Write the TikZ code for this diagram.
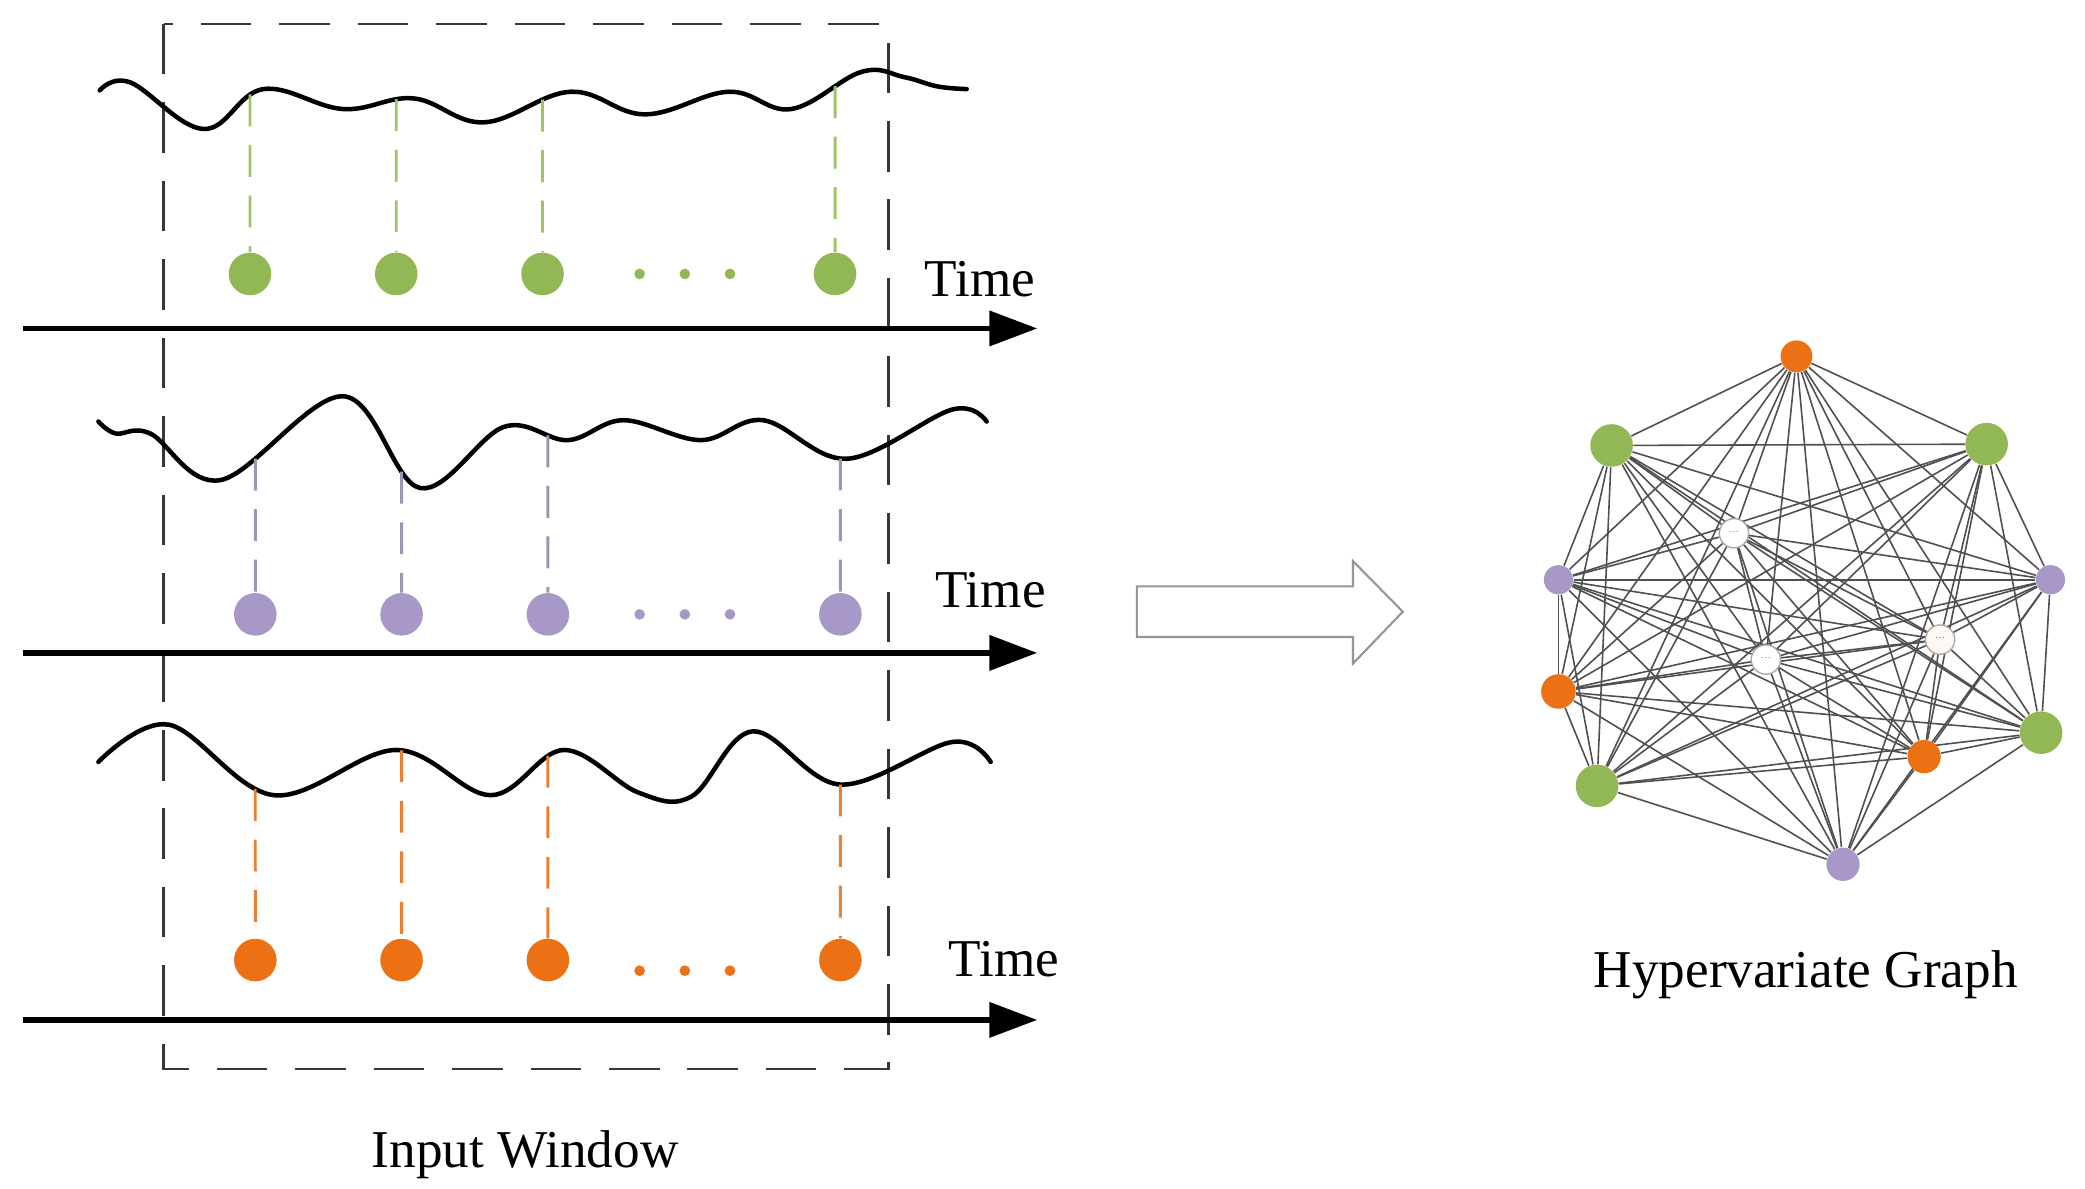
\documentclass[tikz,border=0pt]{standalone}
\usepackage{fontspec}
\setmainfont{Liberation Serif}
\usetikzlibrary{arrows.meta,intersections,backgrounds}
\definecolor{cgreen}{RGB}{145,184,84}
\definecolor{cpurple}{RGB}{168,152,200}
\definecolor{corange}{RGB}{236,112,20}
\definecolor{lgreen}{RGB}{158,198,100}
\definecolor{lpurple}{RGB}{158,148,180}
\definecolor{lorange}{RGB}{234,128,50}
\definecolor{edgegray}{RGB}{80,80,80}
\definecolor{boxgray}{RGB}{55,55,55}
\definecolor{arrgray}{RGB}{150,150,150}
\begin{document}
\begin{tikzpicture}[x=0.5pt,y=-0.5pt,
  wave/.style={line width=1.7pt, black, line cap=round},
  timeaxis/.style={line width=2pt, -{Triangle[length=18pt,width=13pt]}},
  sampdot/.style={circle, minimum size=16pt, inner sep=0pt, fill=#1},
  smalldot/.style={circle, minimum size=4pt, inner sep=0pt, fill=#1},
  sampline/.style={line width=1.1pt, dash pattern=on 12pt off 7pt, draw=#1},
  winbox/.style={line width=1pt, draw=boxgray, dash pattern=on 19pt off 10.5pt},
  lbl/.style={inner sep=0pt, font=\fontsize{20}{24}\selectfont},
  gnode/.style={circle, inner sep=0pt, minimum size=#1},
  gedge/.style={draw=edgegray, line width=0.6pt},
  wnode/.style={circle, inner sep=0pt, minimum size=11pt, fill=white, draw=black!35, line width=0.5pt, text=black!50, font=\fontsize{4}{4}\selectfont},
  hollow/.style={draw=arrgray, line width=0.8pt, fill=white}
]
\useasboundingbox (0,0) rectangle (1568,894);
\begin{scope}[on background layer]
\fill[white] (0,0) rectangle (1568,894);
\end{scope}

% input window
\draw[winbox] (123,18) rectangle (668,804);

% ---------- panel 1 (green)
\draw[wave, name path=w1] plot[smooth, tension=0.65] coordinates {(75,68) (98,62) (153,97) (198,67) (258,82) (311,74) (364,92) (429,69) (485,86) (548,69) (595,82) (648,54) (680,58) (705,65) (727,67)};
\foreach \k/\x in {1/188,2/298,3/408,4/628}{
  \node[sampdot=cgreen] (g1\k) at (\x,206) {};
  \path[name path=v1\k] (\x,0) -- (\x,160);
  \path[name intersections={of=w1 and v1\k, by=t1\k}];
}
\foreach \x [count=\k] in {481,515,549}{ \node[smalldot=cgreen] (d1\k) at (\x,206) {}; }
\foreach \k in {1,2,3,4}{ \draw[sampline=lgreen] (t1\k) -- (g1\k.north); }
\node[lbl, anchor=base west] (time1) at (695,223) {Time};
\coordinate (a1s) at (17,247);
\coordinate (a1e) at (780,247);
\draw[timeaxis] (a1s) -- (a1e);

% ---------- panel 2 (purple)
\draw[wave, name path=w2] plot[smooth, tension=0.6] coordinates {(74,317) (87,326) (113,326) (166,361) (258,298) (316,367) (379,321) (427,331) (469,316) (527,331) (574,316) (637,345) (716,308) (742,317)};
\foreach \k/\x in {1/192,2/302,3/412,4/632}{
  \node[sampdot=cpurple] (g2\k) at (\x,462) {};
  \path[name path=v2\k] (\x,280) -- (\x,420);
  \path[name intersections={of=w2 and v2\k, by=t2\k}];
}
\foreach \x [count=\k] in {481,515,549}{ \node[smalldot=cpurple] (d2\k) at (\x,462) {}; }
\foreach \k in {1,2,3,4}{ \draw[sampline=lpurple] (t2\k) -- (g2\k.north); }
\node[lbl, anchor=base west] (time2) at (703,457) {Time};
\coordinate (a2s) at (17,491);
\coordinate (a2e) at (780,491);
\draw[timeaxis] (a2s) -- (a2e);

% ---------- panel 3 (orange)
\draw[wave, name path=w3] plot[smooth, tension=0.6] coordinates {(74,573) (127,545) (206,598) (298,564) (369,598) (424,564) (480,596) (520,599) (566,550) (632,590) (716,558) (745,573)};
\foreach \k/\x in {1/192,2/302,3/412,4/632}{
  \node[sampdot=corange] (g3\k) at (\x,722) {};
  \path[name path=v3\k] (\x,530) -- (\x,680);
  \path[name intersections={of=w3 and v3\k, by=t3\k}];
}
\foreach \x [count=\k] in {481,515,549}{ \node[smalldot=corange] (d3\k) at (\x,730) {}; }
\foreach \k in {1,2,3,4}{ \draw[sampline=lorange] (t3\k) -- (g3\k.north); }
\node[lbl, anchor=base west] (time3) at (713,734) {Time};
\coordinate (a3s) at (17,767);
\coordinate (a3e) at (780,767);
\draw[timeaxis] (a3s) -- (a3e);

\node[lbl, anchor=base] (inwin) at (395,878) {Input Window};

% ---------- hollow arrow
\draw[hollow] (855,441) -- (1017.5,441) -- (1017.5,422) -- (1055,460) -- (1017.5,499) -- (1017.5,479) -- (855,479) -- cycle;

% ---------- hypervariate graph
\node[gnode=12pt, fill=corange] (O1) at (1351,268) {};
\node[gnode=16pt, fill=cgreen] (G1) at (1212,335) {};
\node[gnode=16pt, fill=cgreen] (G2) at (1494,334) {};
\node[gnode=11pt, fill=cpurple] (P1) at (1172,436) {};
\node[gnode=11pt, fill=cpurple] (P2) at (1542,436) {};
\node[gnode=13pt, fill=corange] (O2) at (1172,520) {};
\node[gnode=16pt, fill=cgreen] (G3) at (1201,591) {};
\node[gnode=16pt, fill=cgreen] (G4) at (1535,551) {};
\node[gnode=12.5pt, fill=corange] (O3) at (1447,569) {};
\node[gnode=12.5pt, fill=cpurple] (P3) at (1386,650) {};
\node[wnode] (W1) at (1304,401) {···};
\node[wnode] (W2) at (1328,496) {···};
\node[wnode, fill={rgb,255:red,255;green,248;blue,242}] (W3) at (1459,481) {···};
\begin{scope}[on background layer]
\foreach \a [count=\i] in {O1,G1,G2,P1,P2,O2,G3,G4,O3,P3,W1,W2,W3}{
  \foreach \b [count=\j] in {O1,G1,G2,P1,P2,O2,G3,G4,O3,P3,W1,W2,W3}{
    \ifnum\j>\i \draw[gedge] (\a) -- (\b); \fi
  }
}
\end{scope}
\node[lbl, anchor=base] (hgraph) at (1358,743) {Hypervariate Graph};
\end{tikzpicture}
\end{document}
